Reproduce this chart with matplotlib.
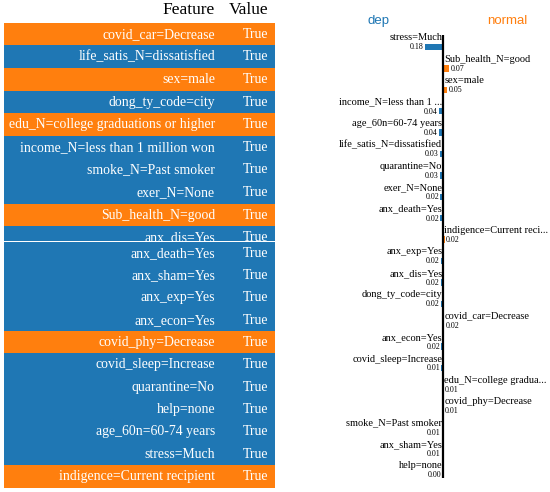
import matplotlib
matplotlib.use("Agg")
import matplotlib.pyplot as plt
import numpy as np

# ---------------- data ----------------
table_features = [
    "covid_car=Decrease", "life_satis_N=dissatisfied", "sex=male", "dong_ty_code=city",
    "edu_N=college graduations or higher", "income_N=less than 1 million won",
    "smoke_N=Past smoker", "exer_N=None", "Sub_health_N=good", "anx_dis=Yes",
    "anx_death=Yes", "anx_sham=Yes", "anx_exp=Yes", "anx_econ=Yes", "covid_phy=Decrease",
    "covid_sleep=Increase", "quarantine=No", "help=none", "age_60n=60-74 years",
    "stress=Much", "indigence=Current recipient",
]
table_values = ["True"] * 21
table_class = ["normal", "dep", "normal", "dep", "normal", "dep", "dep", "dep", "normal", "dep",
               "dep", "dep", "dep", "dep", "normal", "dep", "dep", "dep", "dep", "dep", "normal"]

chart_labels = [
    "stress=Much", "Sub_health_N=good", "sex=male", "income_N=less than 1 ...",
    "age_60n=60-74 years", "life_satis_N=dissatisfied", "quarantine=No", "exer_N=None",
    "anx_death=Yes", "indigence=Current reci...", "anx_exp=Yes", "anx_dis=Yes",
    "dong_ty_code=city", "covid_car=Decrease", "anx_econ=Yes", "covid_sleep=Increase",
    "edu_N=college gradua...", "covid_phy=Decrease", "smoke_N=Past smoker",
    "anx_sham=Yes", "help=none",
]
chart_values = [0.181, 0.068, 0.048, 0.041, 0.038, 0.031, 0.027, 0.024, 0.022, 0.021, 0.020,
                0.019, 0.018, 0.017, 0.016, 0.014, 0.012, 0.011, 0.009, 0.007, 0.004]
chart_class = ["dep", "normal", "normal", "dep", "dep", "dep", "dep", "dep", "dep", "normal",
               "dep", "dep", "dep", "normal", "dep", "dep", "normal", "normal", "dep", "dep", "dep"]
class_names = ["dep", "normal"]

# ---------------- style ----------------
COL = {"dep": "#1f77b4", "normal": "#ff7f0e"}
SERIF = "Liberation Serif"
SANS = "Liberation Sans"
W, H = 550, 492

fig = plt.figure(figsize=(W / 100, H / 100), dpi=100)


def px_axes(x0, y0, x1, y1):
    ax = fig.add_axes([x0 / W, 1 - y1 / H, (x1 - x0) / W, (y1 - y0) / H])
    ax.set_axis_off()
    return ax


# ---------------- table ----------------
fig.text(215 / W, 1 - 9.5 / H, "Feature", ha="right", va="center", family=SERIF, fontsize=12.5)
fig.text(268 / W, 1 - 9.5 / H, "Value", ha="right", va="center", family=SERIF, fontsize=12.5)


def draw_rows(ax, idx, first_center, step):
    centers = first_center + step * np.arange(len(idx))
    colors = [COL[table_class[i]] for i in idx]
    ax.barh(centers, 271, left=4, height=step + 0.6, color=colors, linewidth=0)
    for c, i in zip(centers, idx):
        ax.text(215, c, table_features[i], ha="right", va="center", color="white",
                family=SERIF, fontsize=9.9, clip_on=True)
        ax.text(268, c, table_values[i], ha="right", va="center", color="white",
                family=SERIF, fontsize=9.9, clip_on=True)


ax_t1 = px_axes(4, 23, 275, 241.3)
ax_t1.set_xlim(4, 275)
ax_t1.set_ylim(241.3, 23)
draw_rows(ax_t1, list(range(0, 10)), 34.3, 22.6)

ax_t2 = px_axes(4, 242.4, 275, 487.5)
ax_t2.set_xlim(4, 275)
ax_t2.set_ylim(487.5, 242.4)
draw_rows(ax_t2, list(range(10, 21)), 253.3, 22.3)

# ---------------- bar chart ----------------
fig.text(378 / W, 1 - 21 / H, class_names[0], ha="center", va="center", color=COL["dep"],
         family=SANS, fontsize=9.5)
fig.text(507 / W, 1 - 21 / H, class_names[1], ha="center", va="center", color=COL["normal"],
         family=SANS, fontsize=9.5)

axc = px_axes(300, 35, 545, 478)
zero_px, scale = 442.7, 100.0
row0_px, row_step = 47.0, 21.4
axc.set_xlim((300 - zero_px) / scale, (545 - zero_px) / scale)
axc.set_ylim((478 - row0_px) / row_step, (35 - row0_px) / row_step)

ypos = np.arange(len(chart_values))
signed = [(-v if c == "dep" else v) for v, c in zip(chart_values, chart_class)]
axc.barh(ypos, signed, height=6.5 / row_step, color=[COL[c] for c in chart_class], linewidth=0)
axc.axvline(0, color="black", linewidth=1.6)

lab_off = 9.0 / row_step
for y, v, s, lab, c in zip(ypos, chart_values, signed, chart_labels, chart_class):
    if c == "dep":
        axc.text(-0.003, y - lab_off, lab, ha="right", va="center", family=SERIF, fontsize=7.5)
        axc.text(s - 0.01, y + 0.02, f"{v:.2f}", ha="right", va="center", family=SERIF,
                 fontsize=5.8)
    else:
        axc.text(0.017, y - lab_off, lab, ha="left", va="center", family=SERIF, fontsize=7.5)
        axc.text(s + 0.01, y + 0.02, f"{v:.2f}", ha="left", va="center", family=SERIF,
                 fontsize=5.8)

fig.savefig("out.png", dpi=100)
